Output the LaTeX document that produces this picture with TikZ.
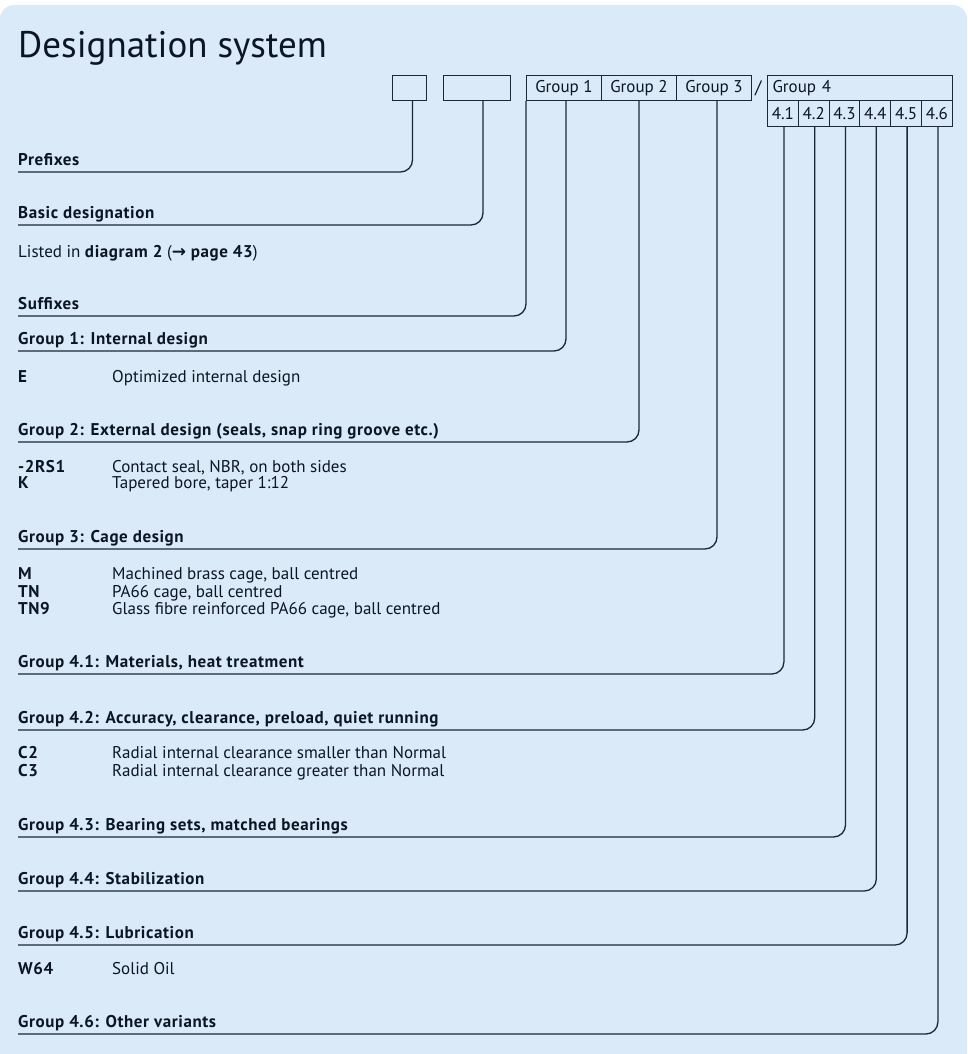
\documentclass[tikz,border=0pt]{standalone}
\usepackage{fontspec}
\setmainfont{PT Sans}
\newfontfamily\arrowfont{DejaVu Sans}
\definecolor{dsback}{RGB}{219,234,248}
\definecolor{dsink}{RGB}{12,22,34}
\definecolor{dsline}{RGB}{28,40,54}
\newcommand{\dsize}{\fontsize{17}{18}\selectfont}
\newcommand{\bsize}{\bfseries\fontsize{17}{18}\selectfont\addfontfeatures{LetterSpace=3.5}}

\begin{document}
\begin{tikzpicture}[x=1pt,y=-1pt,
    head/.style={anchor=base west,inner sep=0pt,font=\bsize,text=dsink},
    item/.style={anchor=base west,inner sep=0pt,font=\dsize,text=dsink},
    cell/.style={draw=dsline,line width=1pt,anchor=north west,inner sep=0pt,minimum height=25pt,font=\dsize,text=dsink},
    link/.style={dsline,line width=1.3pt,rounded corners=12pt}]
  \useasboundingbox (0,0) rectangle (967,1054);
  \fill[dsback,rounded corners=14pt] (0,5) rectangle (967,1080);
  \node[item,font=\fontsize{37}{40}\selectfont] (title) at (18,58) {Designation system};
  % code boxes
  \node[cell,minimum width=34pt] (pre) at (392,75) {};
  \node[cell,minimum width=67pt] (basic) at (443,75) {};
  \foreach \i/\x in {1/526,2/601,3/676}
    \node[cell,minimum width=75pt] (g\i) at (\x,75) {Group \i};
  \node[item,font=\fontsize{18}{20}\selectfont] (slash) at (755,94) {/};
  \node[cell,minimum width=185pt,text width=175pt,inner xsep=5pt,align=left] (g4) at (767,75) {Group 4};
  \foreach \i in {1,...,6}
    \node[cell,minimum width=30.8pt,minimum height=26pt] (s\i) at ({767+(\i-1)*30.8},100) {4.\i};
  % headings, each tied to its box
  \foreach \n/\y/\t/\tgt/\dx in {
      hpre/165.5/Prefixes/pre.south/3,
      hbas/218.5/{Basic designation}/basic.south/6,
      hsuf/309.5/Suffixes/g1.south west/0,
      hg1/344.5/{Group 1: Internal design}/g1.south/2,
      hg2/435.5/{Group 2: External design (seals, snap ring groove etc.)}/g2.south/0,
      hg3/542.5/{Group 3: Cage design}/g3.south/3,
      h41/667.5/{Group 4.1: Materials, heat treatment}/s1.south/1,
      h42/723.5/{Group 4.2: Accuracy, clearance, preload, quiet running}/s2.south/1,
      h43/830.5/{Group 4.3: Bearing sets, matched bearings}/s3.south/1,
      h44/884.5/{Group 4.4: Stabilization}/s4.south/1,
      h45/938.5/{Group 4.5: Lubrication}/s5.south/1,
      h46/1027.5/{Group 4.6: Other variants}/s6.south/1}
    {\node[head] (\n) at (18,\y) {\t};
     \draw[link] ([yshift=-6.5pt]\n.base west) -| ([xshift=\dx pt]\tgt);}
  \node[item] (listed) at (18,257) {Listed in {\bsize diagram 2} ({\bsize{\arrowfont\bfseries →} page 43})};
  % codes and their meaning
  \foreach \y/\c/\d in {382/E/{Optimized internal design},
      472/-2RS1/{Contact seal, NBR, on both sides}, 488/K/{Tapered bore, taper 1:12},
      579/M/{Machined brass cage, ball centred}, 597/TN/{PA66 cage, ball centred},
      614/TN9/{Glass fibre reinforced PA66 cage, ball centred},
      758/C2/{Radial internal clearance smaller than Normal},
      776/C3/{Radial internal clearance greater than Normal},
      974/W64/{Solid Oil}}
    {\node[head] (c\y) at (18,\y) {\c};
     \node[item] (d\y) at (112,\y) {\d};}
\end{tikzpicture}
\end{document}
